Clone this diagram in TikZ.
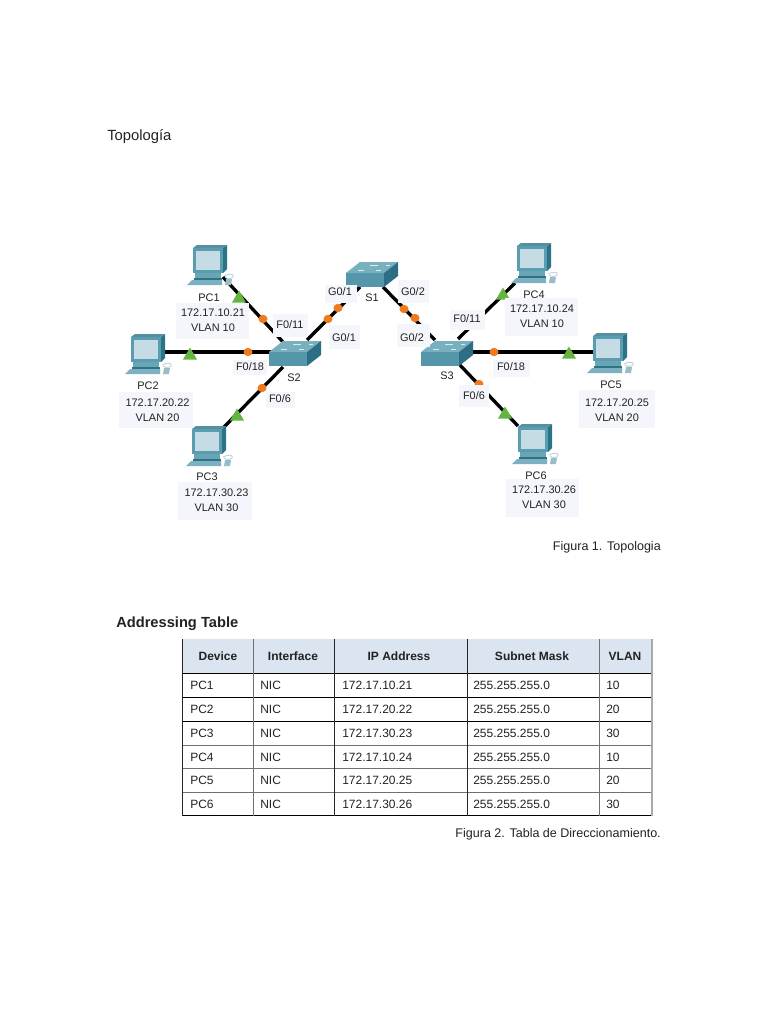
\documentclass[tikz,border=0pt]{standalone}
\usepackage{fontspec}
\setmainfont{Liberation Sans}
\definecolor{labbg}{HTML}{F4F6FB}
\definecolor{hdrbg}{HTML}{DBE5F1}
\definecolor{pcfront}{HTML}{5A9DB0}
\definecolor{pcside}{HTML}{2B7486}
\definecolor{pcscreen}{HTML}{C6DCE5}
\definecolor{pcbase}{HTML}{6AA5B6}
\definecolor{pckey}{HTML}{7DB0C0}
\definecolor{swfront}{HTML}{5596AA}
\definecolor{swtop}{HTML}{78B0C0}
\definecolor{swside}{HTML}{2C6F84}
\definecolor{portor}{HTML}{F07A1E}
\definecolor{portgr}{HTML}{64B53F}
\definecolor{txt}{HTML}{222222}
\definecolor{gline}{HTML}{707070}
\tikzset{
  x=.75pt,y=-.75pt,
  link/.style={line width=2.5pt,black},
  lab/.style={font=\fontsize{8.2}{11.2}\selectfont,text=txt,inner sep=0pt,align=center},
  cell/.style={font=\fontsize{9}{11}\selectfont,text=txt,inner sep=0pt,anchor=west},
  head/.style={font=\fontsize{9}{11}\selectfont\bfseries,text=txt,inner sep=0pt},
  captxt/.style={font=\fontsize{9.4}{12}\selectfont,text=txt,inner sep=0pt,anchor=east},
  pcdev/.pic={
    \fill[pcside] (30,1) -- (34,-2) -- (34,22) -- (30,26) -- cycle;
    \fill[pcside!80!white] (0,1) -- (4,-2) -- (34,-2) -- (30,1) -- cycle;
    \fill[pcfront] (0,1) rectangle (30,26);
    \fill[pcscreen] (3,4) rectangle (27,23);
    \fill[pcbase] (2,26) rectangle (28,31);
    \fill[pcside] (1,31) rectangle (29,33);
    \fill[pckey] (-1,33) -- (29,33) -- (29,38) -- (-6,38) -- cycle;
    \draw[white!70!pcside,line width=.7pt] (31,29) .. controls (36,26) and (42,27) .. (40,30) .. controls (38,32) and (34,32) .. (32,30);
    \fill[pcscreen!70!pcside] (33,32) -- (39,32) -- (38,38) -- (32,38) -- cycle;
  },
  swdev/.pic={
    \fill[swtop] (0,0) -- (14,-11) -- (52,-11) -- (38,0) -- cycle;
    \fill[swfront] (0,0) rectangle (38,14);
    \fill[swside] (38,0) -- (52,-11) -- (52,3) -- (38,14) -- cycle;
    \draw[white!75!swtop,line width=.5pt] (12,-3) -- (18,-3) (24,-8) -- (32,-8) (30,-3) -- (35,-3) (40,-8) -- (44,-8);
  },
  tri/.pic={\fill[portgr] (0,-6.5) -- (7,5.5) -- (-7,5.5) -- cycle;},
  dot/.pic={\fill[portor] (0,0) ellipse [x radius=4.5,y radius=4.2];}
}
\newcommand{\bgbox}[4]{\fill[labbg] (#1,#2) rectangle (#3,#4);}
\begin{document}
\begin{tikzpicture}
\useasboundingbox (0,0) rectangle (768,1024);
\fill[white] (0,0) rectangle (768,1024);

\node[font=\fontsize{11.1}{13}\selectfont,text=txt,inner sep=0pt,anchor=west] (title) at (107,136.500) {Topología};

% link end points
\coordinate (pc1p) at (223,277); \coordinate (s2a) at (283,342);
\coordinate (pc2p) at (164,352); \coordinate (s2b) at (272,352);
\coordinate (pc3p) at (223,428); \coordinate (s2c) at (283,367);
\coordinate (s2d) at (307,340);  \coordinate (s1a) at (360,287);
\coordinate (s1b) at (383,287);  \coordinate (s3a) at (435,340);
\coordinate (pc4p) at (515,283); \coordinate (s3b) at (458,339);
\coordinate (pc5p) at (593,352); \coordinate (s3c) at (470,352);
\coordinate (pc6p) at (518,426); \coordinate (s3d) at (458,363);

\draw[link] (pc1p) -- (s2a);
\draw[link] (pc2p) -- (s2b);
\draw[link] (pc3p) -- (s2c);
\draw[link] (s2d) -- (s1a);
\draw[link] (s1b) -- (s3a);
\draw[link] (pc4p) -- (s3b);
\draw[link] (pc5p) -- (s3c);
\draw[link] (pc6p) -- (s3d);

% devices
\pic at (193,247) {pcdev};
\pic at (131,336) {pcdev};
\pic at (192,428) {pcdev};
\pic at (517,245) {pcdev};
\pic at (593,335) {pcdev};
\pic at (518,426) {pcdev};
\pic at (346,273) {swdev};
\pic at (269,352) {swdev};
\pic at (421,352) {swdev};

% link lights
\pic at (239,297) {tri};
\pic at (190,354) {tri};
\pic at (237,415) {tri};
\pic at (503,294) {tri};
\pic at (569,353) {tri};
\pic at (505,413) {tri};
\pic at (263,319) {dot};
\pic at (248,352) {dot};
\pic at (262,388) {dot};
\pic at (328,319) {dot};
\pic at (338,308) {dot};
\pic at (404,309) {dot};
\pic at (415,318) {dot};
\pic at (494,352) {dot};
\pic at (479,384) {dot};

% labels
\node[lab] (lpc1) at (209,298) {PC1};
\node[lab] (lpc4) at (534,295) {PC4};
\node[lab] (lpc6) at (536,476) {PC6};
\bgbox{176}{303}{249}{339}
\bgbox{119}{392}{193}{428}
\bgbox{178}{482}{252}{520}
\bgbox{505}{298}{578}{336}
\bgbox{579}{390}{655}{428}
\bgbox{506}{479}{579}{517}
\bgbox{273}{314}{308}{337}
\bgbox{325}{285}{357}{303}
\bgbox{329}{325}{360}{349}
\bgbox{233}{360}{267}{375}
\bgbox{266}{392}{295}{408}
\bgbox{398}{280}{429}{303}
\bgbox{397}{324}{430}{347}
\bgbox{450}{310}{485}{330}
\bgbox{493}{360}{530}{377}
\bgbox{459}{385}{489}{407}

\node[lab] (ip1) at (213,320.5) {172.17.10.21\\VLAN 10};
\node[lab] (lpc2) at (148,386) {PC2};
\node[lab] (ip2) at (157.500,410) {172.17.20.22\\VLAN 20};
\node[lab] (lpc3) at (207,477) {PC3};
\node[lab] (ip3) at (216.500,500.5) {172.17.30.23\\VLAN 30};
\node[lab] (ip4) at (542,316.5) {172.17.10.24\\VLAN 10};
\node[lab] (lpc5) at (611,385) {PC5};
\node[lab] (ip5) at (617,410) {172.17.20.25\\VLAN 20};
\node[lab] (ip6) at (544,497.5) {172.17.30.26\\VLAN 30};
\node[lab] (ls1) at (372,298) {S1};
\node[lab] (ls2) at (294,378) {S2};
\node[lab] (ls3) at (447,376) {S3};
\node[lab] (f11a) at (290,325) {F0/11};
\node[lab] (g1a) at (340,292) {G0/1};
\node[lab] (g1b) at (344,338) {G0/1};
\node[lab] (f18a) at (250,367) {F0/18};
\node[lab] (f6a) at (280,399) {F0/6};
\node[lab] (g2a) at (413,292) {G0/2};
\node[lab] (g2b) at (412,338) {G0/2};
\node[lab] (f11b) at (467,319) {F0/11};
\node[lab] (f18b) at (511,367) {F0/18};
\node[lab] (f6b) at (474,396) {F0/6};

\node[captxt] (cap1) at (661,547) {Figura 1. Topologia};

% table
\node[font=\fontsize{11}{14}\selectfont\bfseries,text=txt,inner sep=0pt,anchor=west] (ttitle) at (116,624) {Addressing Table};
\fill[hdrbg] (182,639) rectangle (651,673);
\draw[gline!60!white,line width=1.4pt] (651.8,639) -- (651.8,816);
\foreach \yy in {745,768.5,792} \draw[gline,line width=.75pt] (182,\yy) -- (651,\yy);
\foreach \yy in {673,697,721.500,815.500} \draw[black,line width=.75pt] (182,\yy) -- (651,\yy);
\foreach \xx in {253,599} \draw[gline,line width=.75pt] (\xx,639) -- (\xx,816);
\foreach \xx in {182,334,467} \draw[black!85,line width=.75pt] (\xx,639) -- (\xx,816);

\node[head] (hd1) at (218,656) {Device};
\node[head] (hd2) at (293,656) {Interface};
\node[head] (hd3) at (399,656) {IP Address};
\node[head] (hd4) at (532,656) {Subnet Mask};
\node[head] (hd5) at (625,656) {VLAN};
\foreach \n/\yy/\ip/\vl in {1/685/172.17.10.21/10,2/709/172.17.20.22/20,3/733/172.17.30.23/30,4/757/172.17.10.24/10,5/780.500/172.17.20.25/20,6/804/172.17.30.26/30}{
  \node[cell] (a\n) at (190,\yy) {PC\n};
  \node[cell] (b\n) at (260,\yy) {NIC};
  \node[cell] (c\n) at (342,\yy) {\ip};
  \node[cell] (d\n) at (473,\yy) {255.255.255.0};
  \node[cell] (e\n) at (606,\yy) {\vl};
}
\node[captxt] (cap2) at (661,834) {Figura 2. Tabla de Direccionamiento.};
\end{tikzpicture}
\end{document}
